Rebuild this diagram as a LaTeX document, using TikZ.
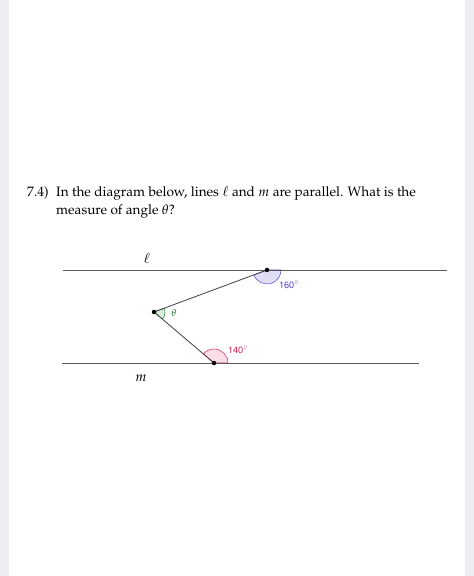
\documentclass[tikz,border=0pt]{standalone}
\usepackage[T1]{fontenc}
\usepackage{mathpazo}
\usepackage[scaled=0.92]{helvet}
\usetikzlibrary{calc}
\definecolor{geoblue}{RGB}{80,70,200}
\definecolor{geored}{RGB}{214,34,90}
\definecolor{geogreen}{RGB}{30,120,40}
\definecolor{pageside}{RGB}{238,238,242}
\begin{document}
\begin{tikzpicture}[x=1pt,y=1pt,
  sidestrip/.style={fill=pageside,draw=none},
  parline/.style={draw=black!65,line width=0.9pt},
  segline/.style={draw=black!75,line width=0.8pt},
  ptdot/.style={circle,fill=black,inner sep=0pt,minimum size=4.5pt},
  qtext/.style={anchor=base west,inner sep=0pt,font=\fontsize{13.6}{18}\selectfont},
  anglab/.style={inner sep=0pt,font=\sffamily\fontsize{10}{11}\selectfont},
  linelab/.style={inner sep=0pt,font=\fontsize{14}{16}\selectfont}]
\useasboundingbox (0,0) rectangle (474,576);
\fill[white] (0,0) rectangle (474,576);
\fill[sidestrip] (0,0) rectangle (9,576);
\fill[sidestrip] (465,0) rectangle (474,576);
% question
\node[qtext] (num) at (27,379) {7.4)};
\node[qtext] (q1) at (56,379) {In the diagram below, lines $\ell$ and $m$ are parallel. What is the};
\node[qtext] (q2) at (56,361) {measure of angle $\theta$?};
% points
\coordinate (A) at (267,306);
\coordinate (P) at (154,264);
\coordinate (B) at (214,213);
\coordinate (l1) at (63,306);
\coordinate (l2) at (447,306);
\coordinate (m1) at (62,213);
\coordinate (m2) at (419,213);
% angle sectors
\filldraw[fill=geoblue!18,draw=geoblue,line width=0.5pt]
  (A) -- ($(A)+(200.4:14)$) arc[start angle=200.4,end angle=360,radius=14] -- cycle;
\filldraw[fill=geored!15,draw=geored,line width=0.5pt]
  (B) -- ($(B)+(0:14)$) arc[start angle=0,end angle=139.6,radius=14] -- cycle;
\filldraw[fill=geogreen!15,draw=geogreen,line width=0.5pt]
  (P) -- ($(P)+(-40.4:11)$) arc[start angle=-40.4,end angle=20.4,radius=11] -- cycle;
% lines
\draw[parline] (l1) -- (l2);
\draw[parline] (m1) -- (m2);
\draw[segline] (A) -- (P) -- (B);
\node[ptdot] (a) at (A) {};
\node[ptdot] (p) at (P) {};
\node[ptdot] (b) at (B) {};
% labels
\node[linelab] (ell) at (147,318) {$\ell$};
\node[linelab] (em) at (141,198) {$m$};
\node[anglab,text=geoblue] (l160) at (289,291) {160$^\circ$};
\node[anglab,text=geored] (l140) at (238,226) {140$^\circ$};
\node[anglab,text=geogreen] (lth) at (174,263) {$\theta$};
\end{tikzpicture}
\end{document}
